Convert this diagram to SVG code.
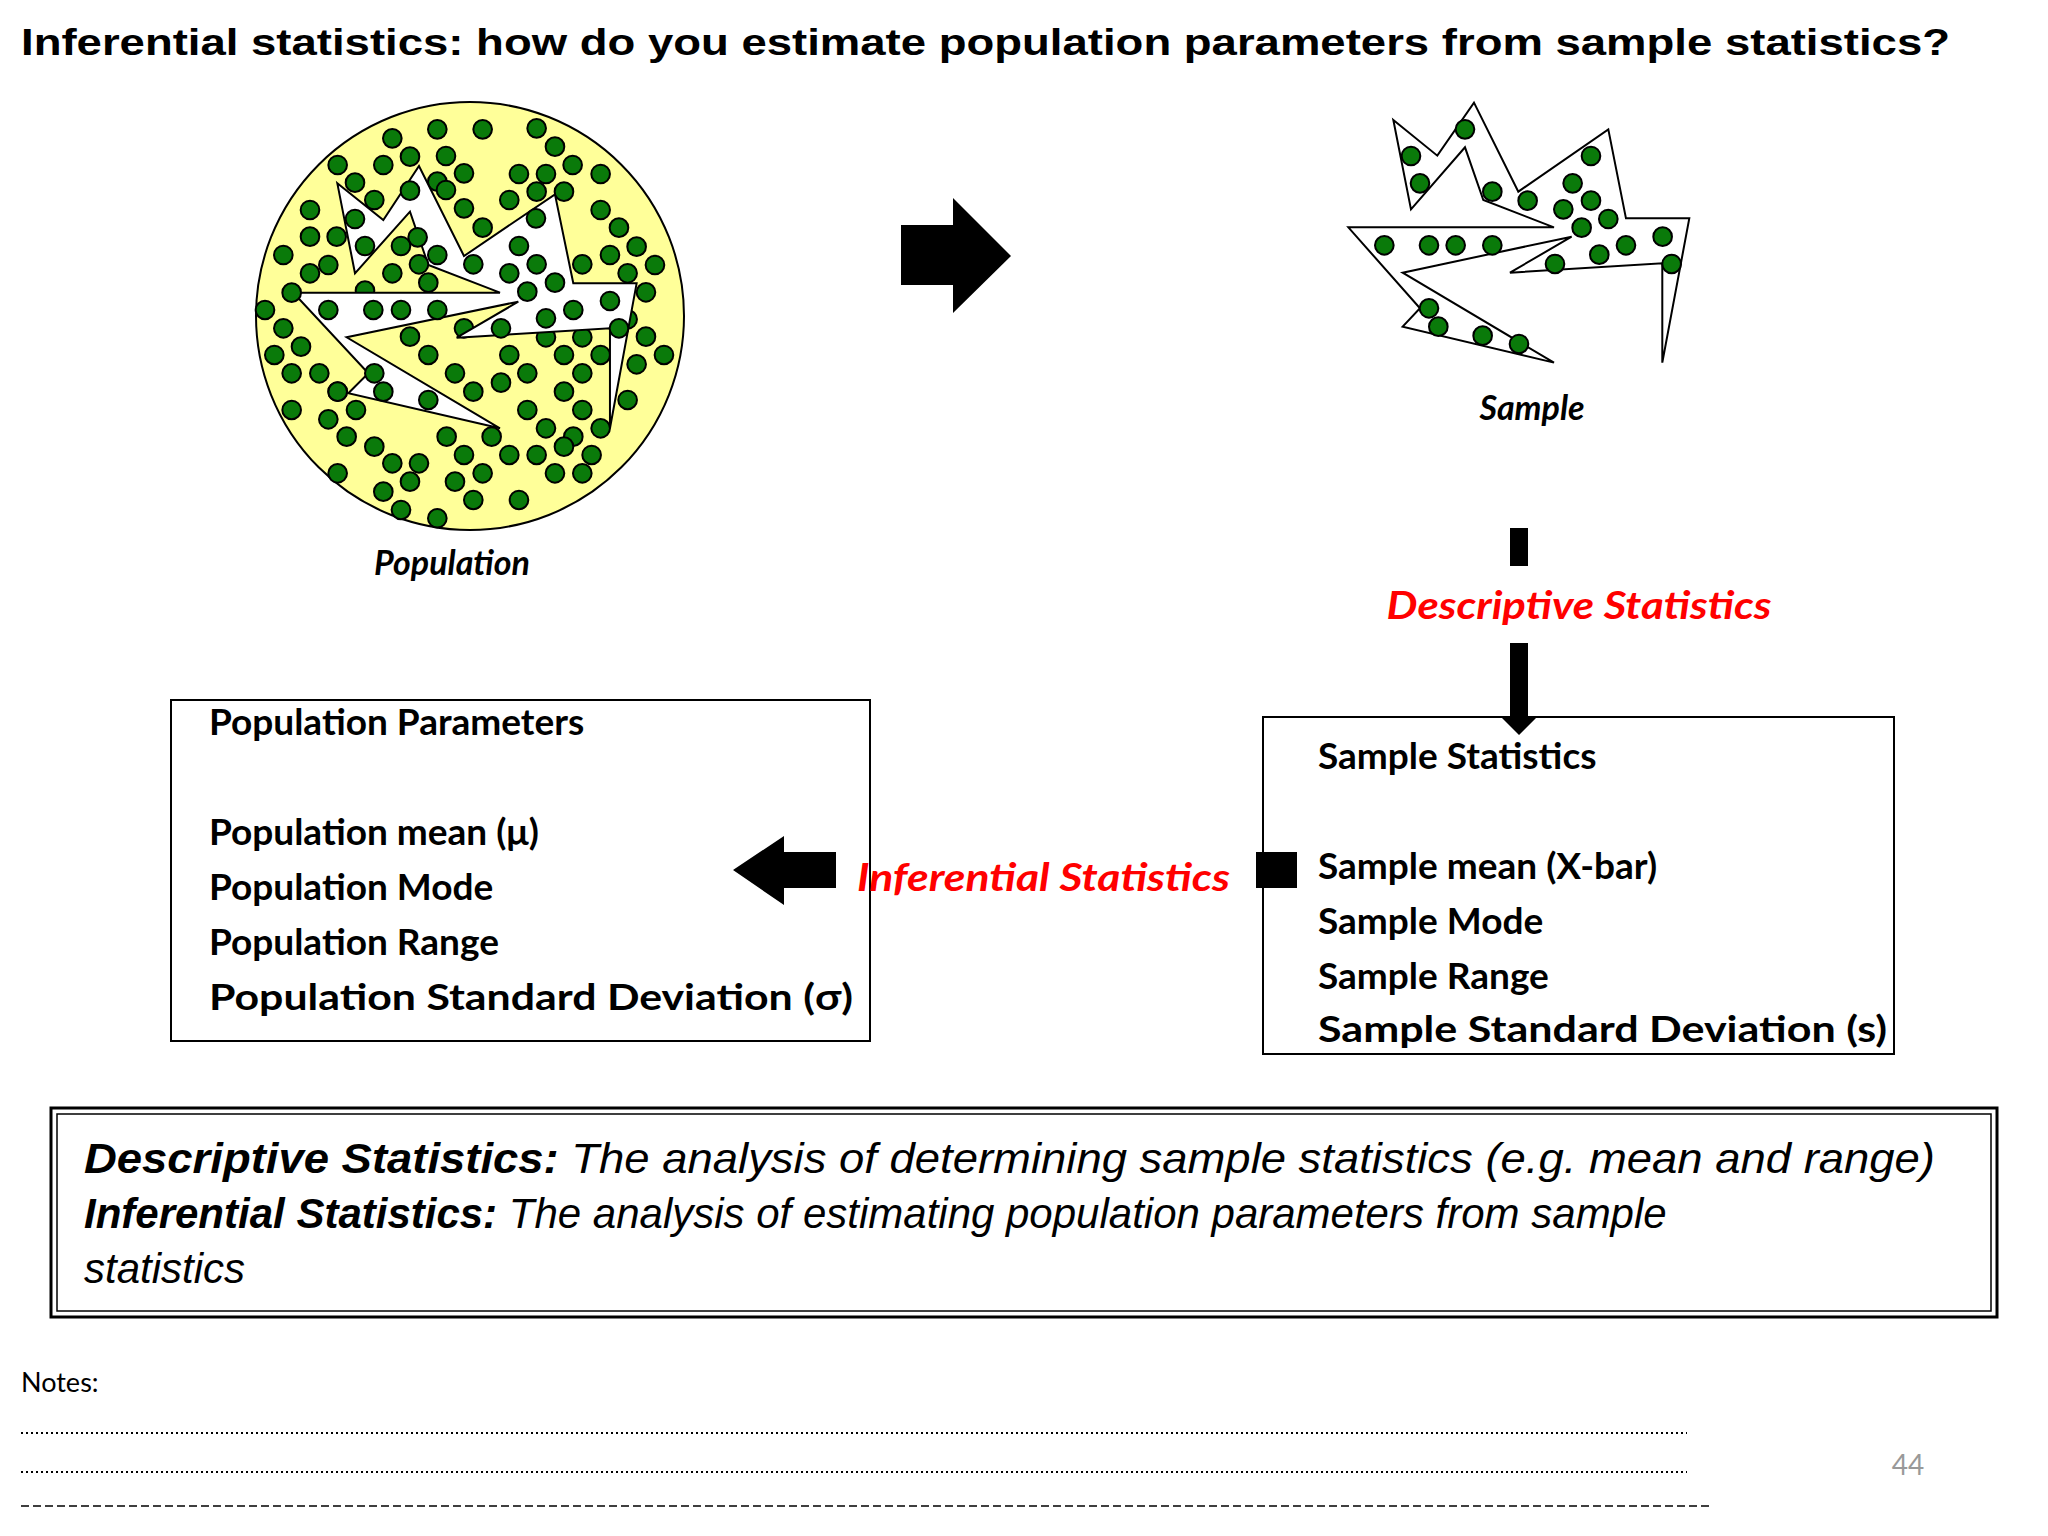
<svg xmlns="http://www.w3.org/2000/svg" width="2048" height="1536" viewBox="0 0 2048 1536">
<style>
.d{fill:#0a7a0a;stroke:#000;stroke-width:6}
.st{fill:#fff;stroke:#000;stroke-width:6;stroke-linejoin:miter}
.c{font-family:Lato,"Open Sans",sans-serif;font-weight:bold;font-size:37px;fill:#000}
.ci{font-family:Lato,"Open Sans",sans-serif;font-weight:bold;font-style:italic}
.a{font-family:"Liberation Sans",Arial,sans-serif}
</style>
<rect width="2048" height="1536" fill="#fff"/>
<text class="a" x="21" y="55" font-size="36" font-weight="bold" textLength="1929" lengthAdjust="spacingAndGlyphs">Inferential statistics: how do you estimate population parameters from sample statistics?</text>

<g id="population">
<ellipse cx="470" cy="316" rx="214" ry="214" fill="#ffff99" stroke="#000" stroke-width="2"/>
<g transform="translate(240 100) scale(0.3333)">
<g>
<circle class="d" cx="592" cy="88" r="28"/><circle class="d" cx="728" cy="88" r="28"/><circle class="d" cx="890" cy="85" r="28"/>
<circle class="d" cx="457" cy="115" r="28"/><circle class="d" cx="945" cy="140" r="28"/>
<circle class="d" cx="293" cy="195" r="28"/><circle class="d" cx="430" cy="195" r="28"/><circle class="d" cx="510" cy="170" r="28"/><circle class="d" cx="618" cy="168" r="28"/><circle class="d" cx="998" cy="195" r="28"/><circle class="d" cx="1082" cy="222" r="28"/><circle class="d" cx="837" cy="222" r="28"/><circle class="d" cx="918" cy="222" r="28"/><circle class="d" cx="672" cy="220" r="28"/>
<circle class="d" cx="592" cy="245" r="28"/><circle class="d" cx="890" cy="275" r="28"/><circle class="d" cx="972" cy="275" r="28"/><circle class="d" cx="808" cy="300" r="28"/><circle class="d" cx="1082" cy="330" r="28"/><circle class="d" cx="672" cy="325" r="28"/>
<circle class="d" cx="210" cy="330" r="28"/><circle class="d" cx="728" cy="383" r="28"/><circle class="d" cx="1137" cy="383" r="28"/>
<circle class="d" cx="210" cy="410" r="28"/><circle class="d" cx="290" cy="410" r="28"/><circle class="d" cx="1110" cy="465" r="28"/><circle class="d" cx="1190" cy="440" r="28"/><circle class="d" cx="1245" cy="495" r="28"/>
<circle class="d" cx="130" cy="465" r="28"/><circle class="d" cx="265" cy="495" r="28"/><circle class="d" cx="210" cy="520" r="28"/><circle class="d" cx="457" cy="520" r="28"/><circle class="d" cx="1027" cy="493" r="28"/><circle class="d" cx="1163" cy="520" r="28"/>
<circle class="d" cx="565" cy="548" r="28"/><circle class="d" cx="375" cy="572" r="28"/><circle class="d" cx="1218" cy="577" r="28"/>
<circle class="d" cx="75" cy="630" r="28"/><circle class="d" cx="1163" cy="658" r="28"/>
<circle class="d" cx="130" cy="685" r="28"/><circle class="d" cx="672" cy="685" r="28"/><circle class="d" cx="1218" cy="710" r="28"/><circle class="d" cx="918" cy="712" r="28"/><circle class="d" cx="1027" cy="712" r="28"/>
<circle class="d" cx="103" cy="765" r="28"/><circle class="d" cx="183" cy="740" r="28"/><circle class="d" cx="510" cy="710" r="28"/><circle class="d" cx="565" cy="765" r="28"/><circle class="d" cx="808" cy="765" r="28"/><circle class="d" cx="972" cy="765" r="28"/><circle class="d" cx="1082" cy="765" r="28"/><circle class="d" cx="1272" cy="765" r="28"/><circle class="d" cx="1190" cy="793" r="28"/>
<circle class="d" cx="155" cy="820" r="28"/><circle class="d" cx="238" cy="820" r="28"/><circle class="d" cx="645" cy="820" r="28"/><circle class="d" cx="862" cy="820" r="28"/><circle class="d" cx="1027" cy="820" r="28"/>
<circle class="d" cx="293" cy="875" r="28"/><circle class="d" cx="700" cy="875" r="28"/><circle class="d" cx="783" cy="848" r="28"/><circle class="d" cx="972" cy="875" r="28"/>
<circle class="d" cx="155" cy="930" r="28"/><circle class="d" cx="348" cy="930" r="28"/><circle class="d" cx="862" cy="930" r="28"/><circle class="d" cx="1027" cy="930" r="28"/><circle class="d" cx="1163" cy="900" r="28"/>
<circle class="d" cx="265" cy="958" r="28"/><circle class="d" cx="918" cy="985" r="28"/><circle class="d" cx="1082" cy="985" r="28"/><circle class="d" cx="1000" cy="1010" r="28"/>
<circle class="d" cx="320" cy="1010" r="28"/><circle class="d" cx="620" cy="1010" r="28"/><circle class="d" cx="972" cy="1040" r="28"/>
<circle class="d" cx="403" cy="1040" r="28"/><circle class="d" cx="672" cy="1065" r="28"/><circle class="d" cx="808" cy="1065" r="28"/><circle class="d" cx="890" cy="1065" r="28"/><circle class="d" cx="1055" cy="1065" r="28"/>
<circle class="d" cx="457" cy="1090" r="28"/><circle class="d" cx="537" cy="1090" r="28"/><circle class="d" cx="293" cy="1120" r="28"/><circle class="d" cx="510" cy="1145" r="28"/><circle class="d" cx="645" cy="1145" r="28"/><circle class="d" cx="728" cy="1120" r="28"/><circle class="d" cx="945" cy="1120" r="28"/><circle class="d" cx="1027" cy="1120" r="28"/>
<circle class="d" cx="430" cy="1175" r="28"/><circle class="d" cx="700" cy="1200" r="28"/><circle class="d" cx="837" cy="1200" r="28"/>
<circle class="d" cx="483" cy="1230" r="28"/><circle class="d" cx="592" cy="1255" r="28"/>
</g>
<polygon class="st" points="292,250 430,360 537,198 672,468 945,283 1000,550 1190,550 1110,985 1110,685 650,713 835,605 320,712 780,985 325,880 385,820 160,578 780,578 565,495 510,335 345,520"/>
<g>
<circle class="d" cx="345" cy="248" r="28"/><circle class="d" cx="510" cy="272" r="28"/><circle class="d" cx="618" cy="270" r="28"/><circle class="d" cx="403" cy="300" r="28"/>
<circle class="d" cx="345" cy="357" r="28"/><circle class="d" cx="888" cy="355" r="28"/>
<circle class="d" cx="375" cy="438" r="28"/><circle class="d" cx="483" cy="438" r="28"/><circle class="d" cx="533" cy="412" r="28"/><circle class="d" cx="592" cy="465" r="28"/><circle class="d" cx="837" cy="438" r="28"/>
<circle class="d" cx="537" cy="493" r="28"/><circle class="d" cx="700" cy="493" r="28"/><circle class="d" cx="808" cy="520" r="28"/><circle class="d" cx="890" cy="493" r="28"/><circle class="d" cx="945" cy="548" r="28"/>
<circle class="d" cx="155" cy="578" r="28"/><circle class="d" cx="862" cy="575" r="28"/>
<circle class="d" cx="265" cy="630" r="28"/><circle class="d" cx="400" cy="630" r="28"/><circle class="d" cx="483" cy="630" r="28"/><circle class="d" cx="592" cy="630" r="28"/><circle class="d" cx="918" cy="655" r="28"/><circle class="d" cx="1000" cy="630" r="28"/><circle class="d" cx="1110" cy="603" r="28"/>
<circle class="d" cx="783" cy="685" r="28"/><circle class="d" cx="1137" cy="685" r="28"/>
<circle class="d" cx="403" cy="820" r="28"/><circle class="d" cx="293" cy="875" r="28"/><circle class="d" cx="430" cy="875" r="28"/><circle class="d" cx="565" cy="900" r="28"/><circle class="d" cx="755" cy="1010" r="28"/>
</g>
</g>
<text class="ci" x="452" y="575" font-size="34" text-anchor="middle">Population</text>
</g>

<g id="sample">
<g transform="translate(1330 90) scale(0.3333)">
<polygon class="st" points="190,90 322,197 432,38 565,305 835,118 888,385 1078,385 997,818 997,520 540,548 725,440 218,548 672,818 218,710 270,655 55,412 672,412 460,330 405,172 243,358"/>
<circle class="d" cx="405" cy="118" r="28"/><circle class="d" cx="243" cy="198" r="28"/><circle class="d" cx="270" cy="280" r="28"/><circle class="d" cx="487" cy="305" r="28"/><circle class="d" cx="593" cy="332" r="28"/><circle class="d" cx="783" cy="198" r="28"/><circle class="d" cx="728" cy="280" r="28"/><circle class="d" cx="783" cy="332" r="28"/><circle class="d" cx="700" cy="358" r="28"/><circle class="d" cx="835" cy="387" r="28"/><circle class="d" cx="755" cy="413" r="28"/><circle class="d" cx="998" cy="440" r="28"/><circle class="d" cx="888" cy="466" r="28"/><circle class="d" cx="808" cy="494" r="28"/><circle class="d" cx="1025" cy="522" r="28"/><circle class="d" cx="675" cy="522" r="28"/><circle class="d" cx="163" cy="466" r="28"/><circle class="d" cx="297" cy="466" r="28"/><circle class="d" cx="377" cy="466" r="28"/><circle class="d" cx="487" cy="466" r="28"/><circle class="d" cx="297" cy="655" r="28"/><circle class="d" cx="325" cy="710" r="28"/><circle class="d" cx="458" cy="737" r="28"/><circle class="d" cx="567" cy="762" r="28"/>
</g>
<text class="ci" x="1532" y="420" font-size="34" text-anchor="middle">Sample</text>
</g>

<g id="population-parameters">
<rect x="171" y="700" width="699" height="341" fill="none" stroke="#000" stroke-width="2"/>
<text class="c" x="209" y="735">Population Parameters</text>
<text class="c" x="209" y="845">Population mean (μ)</text>
<text class="c" x="209" y="900">Population Mode</text>
<text class="c" x="209" y="955">Population Range</text>
<text class="c" x="209" y="1010" textLength="644" lengthAdjust="spacingAndGlyphs">Population Standard Deviation (σ)</text>
</g>

<g id="sample-statistics">
<rect x="1263" y="717" width="631" height="337" fill="none" stroke="#000" stroke-width="2"/>
<text class="c" x="1318" y="769">Sample Statistics</text>
<text class="c" x="1318" y="879">Sample mean (X-bar)</text>
<text class="c" x="1318" y="934">Sample Mode</text>
<text class="c" x="1318" y="989">Sample Range</text>
<text class="c" x="1318" y="1042" textLength="569" lengthAdjust="spacingAndGlyphs">Sample Standard Deviation (s)</text>
</g>

<g id="connectors">
<polygon points="901,225 953,225 953,198 1011,256 953,313 953,285 901,285" fill="#000"/>
<rect x="1510" y="528" width="18" height="38" fill="#000"/>
<polygon points="1510,643 1528,643 1528,718 1536,718 1519,735 1502,718 1510,718" fill="#000"/>
<text class="ci" x="1579" y="619" font-size="39" fill="#ff0000" text-anchor="middle" textLength="385" lengthAdjust="spacingAndGlyphs">Descriptive Statistics</text>
<rect x="1256" y="852" width="41" height="36" fill="#000"/>
<polygon points="836,852 784,852 784,836 733,870 784,905 784,888 836,888" fill="#000"/>
<text class="ci" x="857" y="891" font-size="39" fill="#ff0000" textLength="373" lengthAdjust="spacingAndGlyphs">Inferential Statistics</text>
</g>

<g id="definitions">
<rect x="51" y="1108" width="1946" height="209" fill="none" stroke="#000" stroke-width="3"/>
<rect x="57" y="1114" width="1934" height="197" fill="none" stroke="#000" stroke-width="1.5"/>
<text class="a" x="84" y="1173" font-size="42" font-style="italic" textLength="1851" lengthAdjust="spacingAndGlyphs"><tspan font-weight="bold">Descriptive Statistics:</tspan> The analysis of determining sample statistics (e.g. mean and range)</text>
<text class="a" x="84" y="1228" font-size="42" font-style="italic"><tspan font-weight="bold">Inferential Statistics:</tspan> The analysis of estimating population parameters from sample</text>
<text class="a" x="84" y="1283" font-size="42" font-style="italic">statistics</text>
</g>

<g id="notes">
<text x="21" y="1392" font-family="Lato,'Open Sans',sans-serif" font-size="27">Notes:</text>
<line x1="21" y1="1433" x2="1687" y2="1433" stroke="#000" stroke-width="2" stroke-dasharray="2 3"/>
<line x1="21" y1="1472" x2="1687" y2="1472" stroke="#000" stroke-width="2" stroke-dasharray="2 3"/>
<line x1="21" y1="1506" x2="1711" y2="1506" stroke="#000" stroke-width="1.5" stroke-dasharray="8 4"/>
<text x="1908" y="1475" font-family="Lato,'Open Sans',sans-serif" font-size="28" fill="#999" text-anchor="middle">44</text>
</g>
</svg>
